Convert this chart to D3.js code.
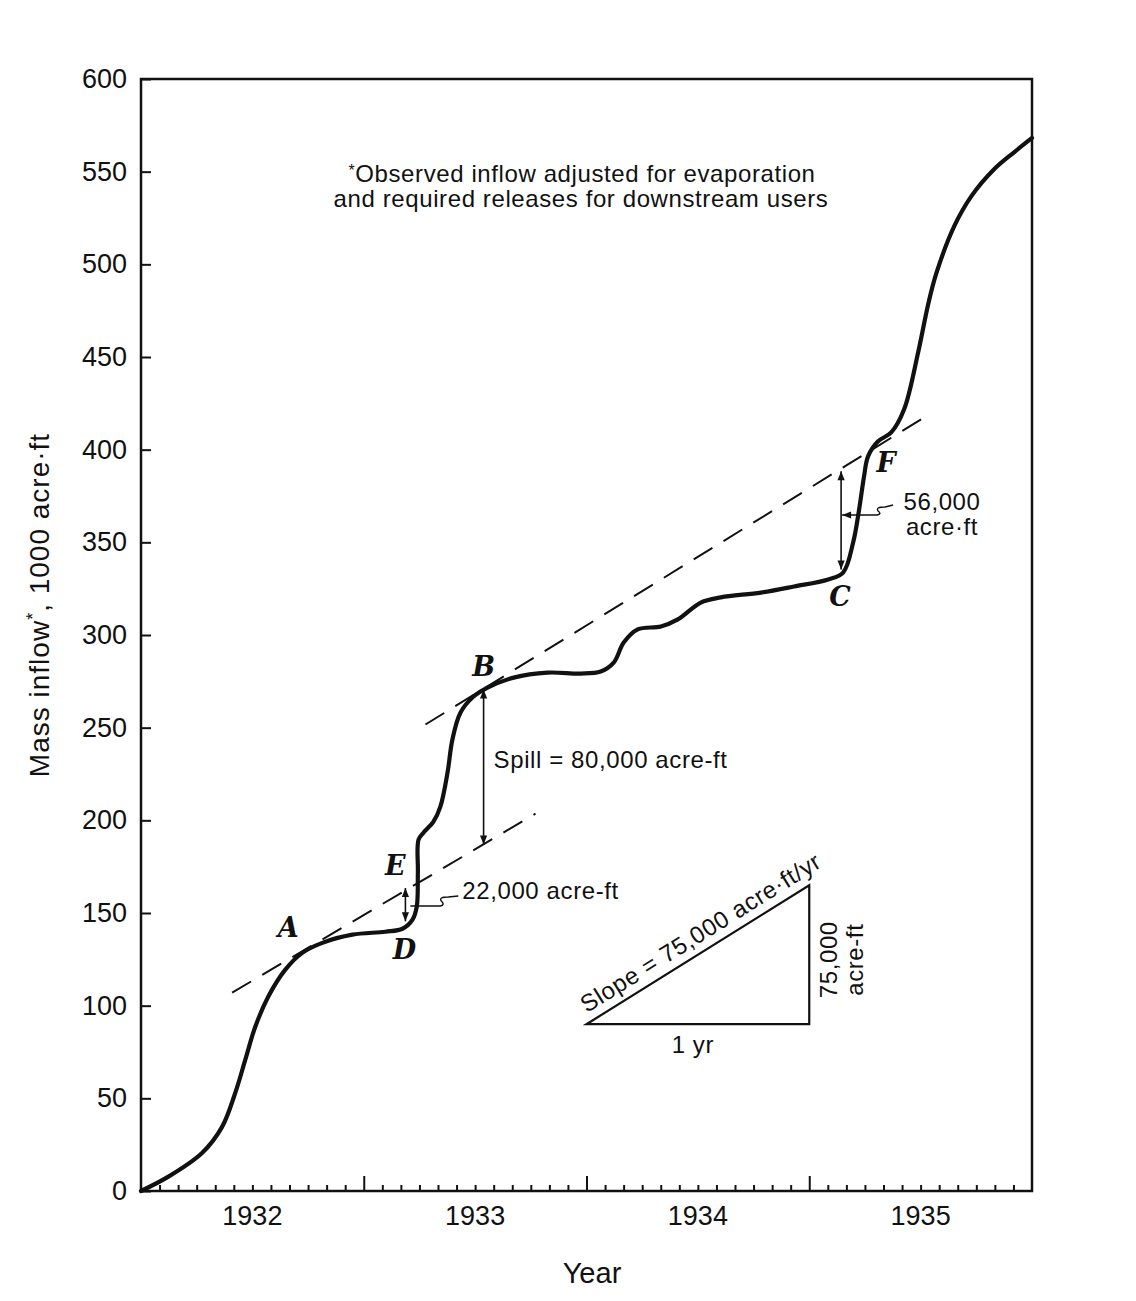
<!DOCTYPE html>
<html>
<head>
<meta charset="utf-8">
<script src="https://cdn.jsdelivr.net/npm/d3@7"></script>
<style>
  body { margin: 0; background: #fff; }
  svg text { font-family: "Liberation Sans", Arial, sans-serif; fill: #111; }
  .pt { font-family: "DejaVu Serif", "Liberation Serif", serif; font-style: italic; font-weight: bold; font-size: 27px; }
  .ann { font-size: 24px; letter-spacing: 0.6px; }
</style>
</head>
<body>
<svg id="chart" width="1136" height="1301"></svg>
<script>
// mass curve, x in years from Jan 1932, y in 1000 acre-ft
const curveYears = [0, 0.121, 0.274, 0.364, 0.423, 0.468, 0.513, 0.571, 0.647, 0.724, 0.814, 0.949, 1.097, 1.174, 1.219, 1.238, 1.243, 1.246, 1.268, 1.313, 1.344, 1.376, 1.398, 1.434, 1.493, 1.556, 1.673, 1.826, 1.974, 2.064, 2.122, 2.167, 2.23, 2.334, 2.41, 2.513, 2.603, 2.783, 2.932, 3.085, 3.152, 3.197, 3.224, 3.246, 3.264, 3.309, 3.368, 3.426, 3.489, 3.534, 3.570, 3.651, 3.728, 3.831, 3.921, 4.0];
const curveInflow = [0, 7.6, 20.5, 34.6, 52.9, 70.7, 88.6, 104.8, 119.3, 128.5, 133.9, 138.3, 139.9, 141.5, 146.4, 153.4, 172, 189.6, 193.3, 199.3, 207.4, 225.7, 243.6, 258.1, 266.8, 271.6, 277.0, 279.7, 279.2, 280.3, 285.1, 295.9, 303.0, 304.6, 308.4, 317.5, 320.3, 322.9, 326.2, 330.0, 333.7, 349.9, 367.8, 385.6, 396.4, 404.5, 409.3, 421.8, 452.6, 478.5, 495.0, 520.6, 536.8, 551.4, 560.6, 568.2];

const yTickValues = [0, 50, 100, 150, 200, 250, 300, 350, 400, 450, 500, 550, 600];
const yearLabels = ["1932", "1933", "1934", "1935"];
const yearBounds = [1, 2, 3];

// dashed lines of constant draft (slope 75,000 acre-ft/yr)
const draftLines = [
  { from: [0.409, 107.0], to: [1.771, 203.6] },
  { from: [1.277, 251.7], to: [3.503, 416.4] },
];

// double arrows: x, top, bottom
const arrows = [
  { x: 1.538, top: 270.6, bottom: 186.9 },
  { x: 1.187, top: 163.5, bottom: 145.5 },
  { x: 3.143, top: 388.3, bottom: 335.4 },
];

const pointLabels = [
  { name: "A", x: 0.661, y: 142.0 },
  { name: "B", x: 1.538, y: 283.0 },
  { name: "C", x: 3.138, y: 320.8 },
  { name: "D", x: 1.183, y: 130.1 },
  { name: "E", x: 1.142, y: 175.5 },
  { name: "F", x: 3.345, y: 393.2 },
];

// slope triangle: 1 yr run, 75 rise
const triangle = { x0: 2, x1: 3, y0: 90, rise: 75 };

const svg = d3.select("#chart");
const margin = { left: 141, right: 1032, top: 79, bottom: 1191 };

const x = d3.scaleLinear().domain([0, 4]).range([margin.left, margin.right]);
const y = d3.scaleLinear().domain([0, 600]).range([margin.bottom, margin.top]);

const defs = svg.append("defs");
["start", "end"].forEach((kind) => {
  defs
    .append("marker")
    .attr("id", `head-${kind}`)
    .attr("viewBox", "0 0 10 10")
    .attr("refX", kind === "end" ? 10 : 0)
    .attr("refY", 5)
    .attr("markerWidth", 11)
    .attr("markerHeight", 9)
    .attr("markerUnits", "userSpaceOnUse")
    .attr("orient", "auto")
    .append("path")
    .attr("d", kind === "end" ? "M0,1 L10,5 L0,9 Z" : "M10,1 L0,5 L10,9 Z")
    .attr("fill", "#111");
});

// frame
svg
  .append("rect")
  .attr("x", margin.left)
  .attr("y", margin.top)
  .attr("width", margin.right - margin.left)
  .attr("height", margin.bottom - margin.top)
  .attr("fill", "none")
  .attr("stroke", "#111")
  .attr("stroke-width", 2.5);

// y axis, ticks pointing inward
const yAxis = d3
  .axisLeft(y)
  .tickValues(yTickValues)
  .tickSize(-10)
  .tickPadding(14)
  .tickFormat(d3.format("d"));

const yG = svg.append("g").attr("transform", `translate(${margin.left},0)`).call(yAxis);
yG.select(".domain").remove();
yG.selectAll(".tick line").attr("stroke", "#111").attr("stroke-width", 2);
yG.selectAll(".tick text").attr("font-size", 27).attr("font-family", "Liberation Sans, Arial, sans-serif").attr("fill", "#111");

// x axis: monthly minor ticks, yearly major ticks
const monthTicks = d3.range(1, 48).filter((m) => m % 12 !== 0).map((m) => m / 12);
const xMinor = d3.axisBottom(x).tickValues(monthTicks).tickSize(-6).tickFormat("");
const xMajor = d3.axisBottom(x).tickValues(yearBounds).tickSize(-15).tickFormat("");

[xMinor, xMajor].forEach((ax) => {
  const g = svg.append("g").attr("transform", `translate(0,${margin.bottom})`).call(ax);
  g.select(".domain").remove();
  g.selectAll(".tick line").attr("stroke", "#111").attr("stroke-width", 2);
});

svg
  .append("g")
  .selectAll("text")
  .data(yearLabels)
  .join("text")
  .attr("x", (d, i) => x(i + 0.5))
  .attr("y", margin.bottom + 34)
  .attr("text-anchor", "middle")
  .attr("font-size", 27)
  .text((d) => d);

svg
  .append("text")
  .attr("x", 592)
  .attr("y", 1283)
  .attr("text-anchor", "middle")
  .attr("font-size", 29)
  .text("Year");

const yLabel = svg
  .append("text")
  .attr("transform", "translate(49,605) rotate(-90)")
  .attr("text-anchor", "middle")
  .attr("font-size", 28)
  .attr("letter-spacing", 1);
yLabel.append("tspan").text("Mass inflow");
yLabel.append("tspan").attr("dy", -10).attr("font-size", 18).text("*");
yLabel.append("tspan").attr("dy", 10).text(", 1000 acre·ft");

// note
const note = svg.append("text").attr("x", 582).attr("y", 182).attr("text-anchor", "middle").attr("class", "ann");
note.append("tspan").attr("dy", -6).attr("font-size", 16).text("*");
note.append("tspan").attr("dy", 6).text("Observed inflow adjusted for evaporation");
svg
  .append("text")
  .attr("x", 581)
  .attr("y", 207)
  .attr("text-anchor", "middle")
  .attr("class", "ann")
  .text("and required releases for downstream users");

// dashed draft lines
svg
  .append("g")
  .selectAll("line")
  .data(draftLines)
  .join("line")
  .attr("x1", (d) => x(d.from[0]))
  .attr("y1", (d) => y(d.from[1]))
  .attr("x2", (d) => x(d.to[0]))
  .attr("y2", (d) => y(d.to[1]))
  .attr("stroke", "#111")
  .attr("stroke-width", 2)
  .attr("stroke-dasharray", "22 13");

// mass curve
const line = d3
  .line()
  .x((d) => x(d[0]))
  .y((d) => y(d[1]))
  .curve(d3.curveCatmullRom.alpha(0.5));

svg
  .append("path")
  .datum(d3.zip(curveYears, curveInflow))
  .attr("d", line)
  .attr("fill", "none")
  .attr("stroke", "#111")
  .attr("stroke-width", 4.2)
  .attr("stroke-linejoin", "round")
  .attr("stroke-linecap", "round");

// double arrows
svg
  .append("g")
  .selectAll("line")
  .data(arrows)
  .join("line")
  .attr("x1", (d) => x(d.x))
  .attr("x2", (d) => x(d.x))
  .attr("y1", (d) => y(d.top))
  .attr("y2", (d) => y(d.bottom))
  .attr("stroke", "#111")
  .attr("stroke-width", 1.6)
  .attr("marker-start", "url(#head-start)")
  .attr("marker-end", "url(#head-end)");

// point letters
svg
  .append("g")
  .selectAll("text")
  .data(pointLabels)
  .join("text")
  .attr("class", "pt")
  .attr("x", (d) => x(d.x))
  .attr("y", (d) => y(d.y))
  .attr("text-anchor", "middle")
  .attr("dominant-baseline", "central")
  .text((d) => d.name);

// annotations
svg
  .append("text")
  .attr("class", "ann")
  .attr("x", x(arrows[0].x) + 10)
  .attr("y", 768)
  .text("Spill = 80,000 acre-ft");

// 22,000 leader with squiggle
const l1x = x(1.245);
svg
  .append("path")
  .attr("d", `M${l1x - 8},906 L${l1x + 22},906 q5,-1 1,-5 q-3,-4 7,-4 L${l1x + 40},896`)
  .attr("fill", "none")
  .attr("stroke", "#111")
  .attr("stroke-width", 1.4);
svg
  .append("text")
  .attr("class", "ann")
  .attr("x", l1x + 44)
  .attr("y", 899)
  .text("22,000 acre-ft");

// 56,000 leader
const l2x = x(arrows[2].x);
svg
  .append("path")
  .attr("d", `M${l2x + 1},515 L${l2x + 36},515 q5,-1 1,-4 q-3,-4 7,-4 L${l2x + 52},505`)
  .attr("fill", "none")
  .attr("stroke", "#111")
  .attr("stroke-width", 1.4)
  .attr("marker-start", "url(#head-start)");
svg.append("text").attr("class", "ann").attr("x", 942).attr("y", 510).attr("text-anchor", "middle").text("56,000");
svg.append("text").attr("class", "ann").attr("x", 942).attr("y", 535).attr("text-anchor", "middle").text("acre·ft");

// slope triangle
const tx0 = x(triangle.x0);
const tx1 = x(triangle.x1);
const ty0 = y(triangle.y0);
const ty1 = y(triangle.y0 + triangle.rise);
svg
  .append("path")
  .attr("d", `M${tx0},${ty0} L${tx1},${ty0} L${tx1},${ty1} Z`)
  .attr("fill", "none")
  .attr("stroke", "#111")
  .attr("stroke-width", 2.2)
  .attr("stroke-linejoin", "miter");

const angle = (Math.atan2(ty1 - ty0, tx1 - tx0) * 180) / Math.PI;
const midX = (tx0 + tx1) / 2;
const midY = (ty0 + ty1) / 2;
svg
  .append("text")
  .attr("class", "ann")
  .attr("transform", `translate(${midX},${midY}) rotate(${angle}) translate(14,-9)`)
  .attr("text-anchor", "middle")
  .text("Slope = 75,000 acre·ft/yr");

svg
  .append("text")
  .attr("class", "ann")
  .attr("x", midX - 5)
  .attr("y", ty0 + 29)
  .attr("text-anchor", "middle")
  .text("1 yr");

svg
  .append("text")
  .attr("class", "ann")
  .attr("transform", `translate(${tx1 + 28},${(ty0 + ty1) / 2 + 5}) rotate(-90)`)
  .attr("text-anchor", "middle")
  .text("75,000");
svg
  .append("text")
  .attr("class", "ann")
  .attr("transform", `translate(${tx1 + 54},${(ty0 + ty1) / 2 + 5}) rotate(-90)`)
  .attr("text-anchor", "middle")
  .text("acre-ft");
</script>
</body>
</html>
